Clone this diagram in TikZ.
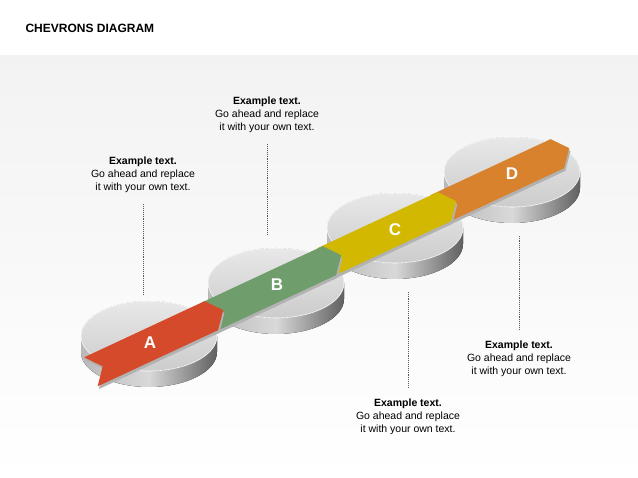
\documentclass[tikz,border=0pt]{standalone}
\usepackage{fontspec}
\setmainfont{Liberation Sans}
\begin{document}
\begin{tikzpicture}[x=1pt,y=1pt,
  txt/.style={align=center,font=\fontsize{10.5}{12.8}\selectfont},
  lbl/.style={text=white,font=\bfseries\fontsize{17}{17}\selectfont},
  dots/.style={densely dotted,line width=0.9pt,gray!70!black}]
\useasboundingbox (0,0) rectangle (638,478);
\fill[top color=gray!10,bottom color=white] (0,0) rectangle (638,423);
\fill[white] (0,423) rectangle (638,478);
\node[anchor=west,font=\bfseries\fontsize{12}{12}\selectfont] (title) at (22,450) {CHEVRONS DIAGRAM};
% discs
\newcommand{\disc}[2]{%
  \fill[left color=gray!55,right color=gray!75!black,middle color=gray!30]
    (#1-68,#2) -- (#1-68,#2-16) arc[start angle=180,end angle=360,x radius=68,y radius=35] -- (#1+68,#2) -- cycle;
  \fill[top color=gray!18,bottom color=gray!40] (#1,#2) ellipse[x radius=68,y radius=35];
  \draw[white,line width=0.6pt] (#1,#2) ellipse[x radius=68,y radius=35];
}
\disc{512}{306}
\disc{395}{250}
\disc{276}{195}
\disc{149}{142}
% chevrons
\newcommand{\chev}[3]{%
  \begin{scope}[shift={(#1,#2)},rotate=25]
  \fill[gray!60] (-73,13) -- (60,13) -- (73,-3) -- (60,-19) -- (-73,-19) -- (-60,-3) -- cycle;
  \fill[#3] (-73,16) -- (60,16) -- (73,0) -- (60,-16) -- (-73,-16) -- (-60,0) -- cycle;
  \end{scope}}
\definecolor{cA}{HTML}{D64A2C}
\definecolor{cB}{HTML}{6F9D6C}
\definecolor{cC}{HTML}{D2B800}
\definecolor{cD}{HTML}{D8822E}
\chev{503}{299}{cD}
\chev{390}{246}{cC}
\chev{275}{192}{cB}
\chev{157}{137}{cA}
\node[lbl] (la) at (150,135) {A};
\node[lbl] (lb) at (277,193) {B};
\node[lbl] (lc) at (395,248) {C};
\node[lbl] (ld) at (512,304) {D};
% texts
\node[txt] (t1) at (143,303) {\textbf{Example text.}\\Go ahead and replace\\it with your own text.};
\node[txt] (t2) at (267,363) {\textbf{Example text.}\\Go ahead and replace\\it with your own text.};
\node[txt] (t3) at (519,119) {\textbf{Example text.}\\Go ahead and replace\\it with your own text.};
\node[txt] (t4) at (408,61) {\textbf{Example text.}\\Go ahead and replace\\it with your own text.};
\coordinate (e1) at (143,183);
\coordinate (e2) at (267,243);
\coordinate (e3) at (519,243);
\coordinate (e4) at (408,186);
\draw[dots] (t1.south) ++(0,-8) -- (e1);
\draw[dots] (t2.south) ++(0,-8) -- (e2);
\draw[dots] (t3.north) ++(0,8) -- (e3);
\draw[dots] (t4.north) ++(0,8) -- (e4);
\end{tikzpicture}
\end{document}
